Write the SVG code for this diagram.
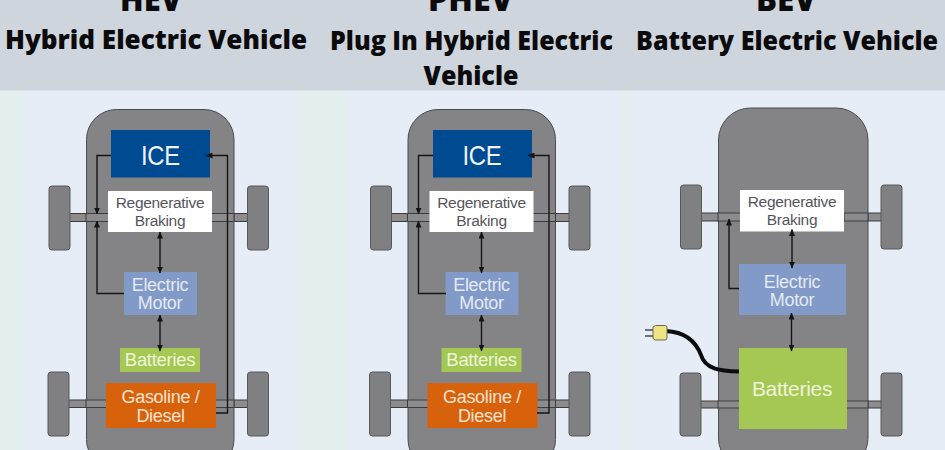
<svg xmlns="http://www.w3.org/2000/svg" width="945" height="450" viewBox="0 0 945 450">
  <style>
    .head { font-family: "Open Sans", "Liberation Sans", sans-serif; font-weight: 800; fill: #0b0b0d; text-anchor: middle; }
    .big { font-size: 33px; }
    .sub { font-size: 27px; }
    .lbl { font-family: "Liberation Sans", Arial, sans-serif; text-anchor: middle; letter-spacing: -0.3px; }
    .body { fill: #848486; stroke: #4c4c4e; stroke-width: 1; }
    .wheel { fill: #808082; stroke: #58585a; stroke-width: 1; }
    .axle { fill: #8c8c8e; stroke: #3c3c3e; stroke-width: 1; }
    .wire { fill: none; stroke: #151517; stroke-width: 1.4; }
    .ice { fill: #004a91; }
    .regen { fill: #ffffff; }
    .motor { fill: #829ac8; }
    .batt { fill: #a4c853; }
    .fuel { fill: #d8610c; }
  </style>
  <defs>
    <marker id="tip" viewBox="0 0 7 6" refX="6.500" refY="3" markerWidth="7" markerHeight="6" markerUnits="userSpaceOnUse" orient="auto-start-reverse">
      <path d="M0 0L7 3L0 6z" fill="#151517"/>
    </marker>
    <g id="chassis">
      <rect class="axle" x="68" y="213.500" width="182" height="8"/>
      <rect class="axle" x="67" y="400" width="183" height="7.500"/>
      <rect class="wheel" x="49" y="186" width="21" height="64" rx="3"/>
      <rect class="wheel" x="247.500" y="186" width="21" height="64" rx="3"/>
      <rect class="wheel" x="48" y="372" width="21" height="64" rx="3"/>
      <rect class="wheel" x="247.500" y="372" width="21" height="64" rx="3"/>
      <rect class="body" x="86.500" y="109.500" width="147.500" height="360" rx="30"/>
      <rect class="axle" x="86" y="213.500" width="24" height="8"/>
      <rect class="axle" x="210" y="213.500" width="24" height="8"/>
      <rect class="axle" x="86" y="400" width="22" height="7.500"/>
      <rect class="axle" x="214" y="400" width="20" height="7.500"/>
    </g>
  </defs>

  <!-- page background -->
  <rect width="945" height="450" fill="#e6edf7"/>
  <rect x="0" y="90" width="23" height="360" fill="#e4efef"/>
  <rect x="298" y="90" width="49" height="360" fill="#e4efef"/>
  <rect x="620" y="90" width="10" height="360" fill="#e4efef"/>
  <rect width="945" height="90.500" fill="#cfd5dc"/>

  <!-- column headings -->
  <g id="title-hev">
    <text class="head big" x="151" y="11" textLength="62" lengthAdjust="spacingAndGlyphs">HEV</text>
    <text class="head sub" x="156" y="49" textLength="302" lengthAdjust="spacingAndGlyphs">Hybrid Electric Vehicle</text>
  </g>
  <g id="title-phev">
    <text class="head big" x="470.500" y="11" textLength="85" lengthAdjust="spacingAndGlyphs">PHEV</text>
    <text class="head sub" x="471.500" y="50" textLength="283" lengthAdjust="spacingAndGlyphs">Plug In Hybrid Electric</text>
    <text class="head sub" x="471" y="85" textLength="95" lengthAdjust="spacingAndGlyphs">Vehicle</text>
  </g>
  <g id="title-bev">
    <text class="head big" x="786" y="11" textLength="60" lengthAdjust="spacingAndGlyphs">BEV</text>
    <text class="head sub" x="787" y="50" textLength="302" lengthAdjust="spacingAndGlyphs">Battery Electric Vehicle</text>
  </g>

  <!-- vehicle platforms -->
  <g id="platform-hev"><use href="#chassis"/></g>
  <g id="platform-phev"><use href="#chassis" x="321.500"/></g>
  <g id="platform-bev">
    <rect class="axle" x="700" y="213" width="182" height="8"/>
    <rect class="axle" x="700" y="401" width="182" height="7"/>
    <rect class="wheel" x="680.500" y="185" width="21" height="64" rx="3"/>
    <rect class="wheel" x="881" y="185" width="21" height="64" rx="3"/>
    <rect class="wheel" x="680" y="373" width="21" height="63" rx="3"/>
    <rect class="wheel" x="881" y="373" width="21" height="63" rx="3"/>
    <rect class="body" x="718.500" y="108" width="149.500" height="362" rx="32"/>
    <rect class="axle" x="718" y="213" width="24" height="8"/>
    <rect class="axle" x="844" y="213" width="24" height="8"/>
    <rect class="axle" x="718" y="401" width="22" height="7"/>
    <rect class="axle" x="846" y="401" width="22" height="7"/>
  </g>

  <!-- HEV components -->
  <g id="hev-ice"><rect class="ice" x="111" y="130" width="99" height="47.500"/><text class="lbl" x="160.500" y="164.500" font-size="28" fill="#eef3f8" textLength="39" lengthAdjust="spacingAndGlyphs">ICE</text></g>
  <g id="hev-regen"><rect class="regen" x="108" y="191" width="104" height="41"/><text class="lbl" x="160" y="208" font-size="15.500" fill="#55555c">Regenerative</text><text class="lbl" x="160" y="226" font-size="15.500" fill="#55555c">Braking</text></g>
  <g id="hev-motor"><rect class="motor" x="124" y="272" width="73" height="43"/><text class="lbl" x="160" y="291" font-size="18" fill="#e4e9f3">Electric</text><text class="lbl" x="160" y="309" font-size="18" fill="#e4e9f3">Motor</text></g>
  <g id="hev-batt"><rect class="batt" x="120" y="348" width="80" height="24"/><text class="lbl" x="160" y="366" font-size="18.500" fill="#eef5d8">Batteries</text></g>
  <g id="hev-fuel"><rect class="fuel" x="106" y="383" width="110" height="45"/><text class="lbl" x="160.500" y="403" font-size="18" fill="#fbe3d2">Gasoline /</text><text class="lbl" x="160.500" y="422" font-size="18" fill="#fbe3d2">Diesel</text></g>

  <!-- PHEV components -->
  <g id="phev-ice"><rect class="ice" x="433" y="130" width="99" height="47.500"/><text class="lbl" x="482" y="164.500" font-size="28" fill="#eef3f8" textLength="39" lengthAdjust="spacingAndGlyphs">ICE</text></g>
  <g id="phev-regen"><rect class="regen" x="429.500" y="191" width="104" height="41"/><text class="lbl" x="481.500" y="208" font-size="15.500" fill="#55555c">Regenerative</text><text class="lbl" x="481.500" y="226" font-size="15.500" fill="#55555c">Braking</text></g>
  <g id="phev-motor"><rect class="motor" x="445.500" y="272" width="73" height="43"/><text class="lbl" x="481.500" y="291" font-size="18" fill="#e4e9f3">Electric</text><text class="lbl" x="481.500" y="309" font-size="18" fill="#e4e9f3">Motor</text></g>
  <g id="phev-batt"><rect class="batt" x="441.500" y="348" width="80" height="24"/><text class="lbl" x="481.500" y="366" font-size="18.500" fill="#eef5d8">Batteries</text></g>
  <g id="phev-fuel"><rect class="fuel" x="427.500" y="383" width="110" height="45"/><text class="lbl" x="482" y="403" font-size="18" fill="#fbe3d2">Gasoline /</text><text class="lbl" x="482" y="422" font-size="18" fill="#fbe3d2">Diesel</text></g>

  <!-- BEV components -->
  <g id="bev-regen"><rect class="regen" x="740" y="190" width="104" height="41.500"/><text class="lbl" x="792" y="207" font-size="15.500" fill="#55555c">Regenerative</text><text class="lbl" x="792" y="225" font-size="15.500" fill="#55555c">Braking</text></g>
  <g id="bev-motor"><rect class="motor" x="739" y="264" width="107" height="51"/><text class="lbl" x="792" y="288" font-size="18" fill="#e4e9f3">Electric</text><text class="lbl" x="792" y="306" font-size="18" fill="#e4e9f3">Motor</text></g>
  <g id="bev-batt"><rect class="batt" x="739" y="348" width="108" height="81"/><text class="lbl" x="792" y="396" font-size="21" fill="#eef5d8">Batteries</text></g>

  <!-- power flow connectors, drawn over the boxes so the heads stay visible -->
  <g id="connectors">
    <g id="wires-hev">
      <path class="wire" d="M111 155.500H97V214" marker-end="url(#tip)"/>
      <path class="wire" d="M124 293.500H97V221" marker-end="url(#tip)"/>
      <path class="wire" d="M216 413H227.500V155.500H206" marker-end="url(#tip)"/>
      <path class="wire" d="M160 232V273" marker-start="url(#tip)" marker-end="url(#tip)"/>
      <path class="wire" d="M160 315V351" marker-start="url(#tip)" marker-end="url(#tip)"/>
    </g>
    <g id="wires-phev">
      <path class="wire" d="M433 155.500H418.500V214" marker-end="url(#tip)"/>
      <path class="wire" d="M446 293.500H418.500V221" marker-end="url(#tip)"/>
      <path class="wire" d="M537 413H549V155.500H528" marker-end="url(#tip)"/>
      <path class="wire" d="M481.500 232V273" marker-start="url(#tip)" marker-end="url(#tip)"/>
      <path class="wire" d="M481.500 315V351" marker-start="url(#tip)" marker-end="url(#tip)"/>
    </g>
    <g id="wires-bev">
      <path class="wire" d="M739 288.500H729V219" marker-end="url(#tip)"/>
      <path class="wire" d="M792 229.500V268" marker-start="url(#tip)" marker-end="url(#tip)"/>
      <path class="wire" d="M791.500 313V351" marker-start="url(#tip)" marker-end="url(#tip)"/>
      <path id="charge-cable" d="M666 331C686 332 696 342 701 355C705 369 720 371 739 371.500" fill="none" stroke="#0c0c0e" stroke-width="4"/>
    </g>
  </g>

  <!-- charging plug -->
  <g id="plug">
    <path d="M645 330H654M645 336H654" stroke="#4a4a4c" stroke-width="1.400" fill="none"/>
    <path d="M653 327L655.500 325.500H665Q667 325.500 667 327.500V338Q667 340 665 340H655.500L653 338.500z" fill="#efe482" stroke="#6a674f" stroke-width="1"/>
  </g>
</svg>
